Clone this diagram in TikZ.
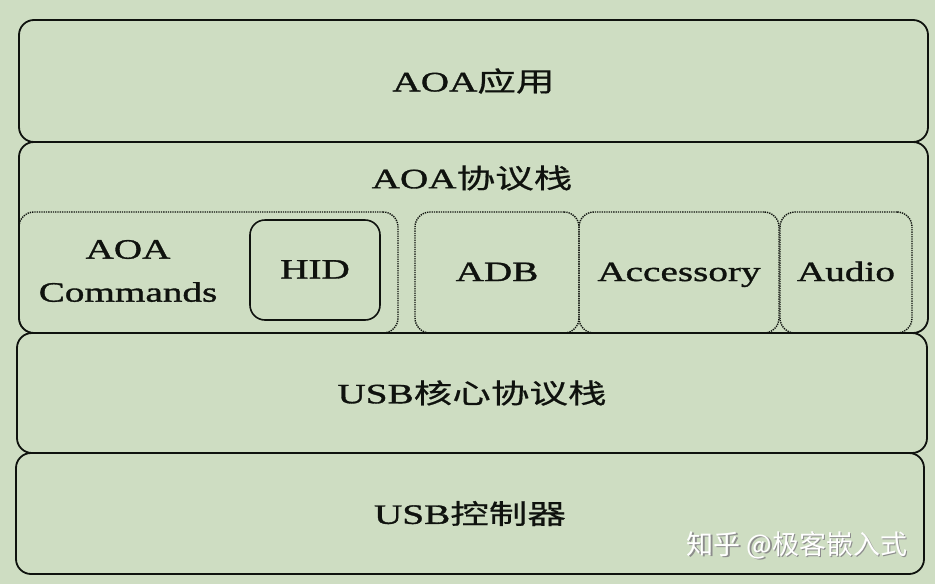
\documentclass[tikz,border=0pt]{standalone}
\usepackage{fontspec}
\setmainfont{Liberation Serif}[FakeStretch=1.4,FakeBold=1.2]
\newfontfamily\cjk{Noto Sans CJK SC}[FakeStretch=1.42,Scale=0.97,FakeBold=0.6]
\newfontfamily\wmfont{Noto Sans CJK SC}
\definecolor{bg}{RGB}{206,221,194}
\definecolor{ink}{RGB}{15,18,14}
\begin{document}
\begin{tikzpicture}[x=1pt,y=-1pt,
  layer/.style={draw=ink,line width=1.8pt,rounded corners=15pt,inner sep=0pt,outer sep=0pt,
    font=\fontsize{28}{30}\selectfont,text=ink},
  sub/.style={draw=ink,line width=1.4pt,dash pattern=on 1.3pt off 1pt,rounded corners=15pt,
    inner sep=0pt,outer sep=0pt,font=\fontsize{28}{30}\selectfont,text=ink,
    text height=19pt,text depth=2pt},
  lbl/.style={inner sep=0pt,font=\fontsize{28}{43}\selectfont,text=ink,align=center}]
\fill[bg] (0,0) rectangle (935,584);
\useasboundingbox (0,0) rectangle (935,584);
% outer layers
\node[layer,minimum width=909pt,minimum height=122pt] (app) at (473.5,81) {AOA{\cjk 应用}};
\node[layer,minimum width=909pt,minimum height=191pt] (stack) at (473.5,237.5) {};
\node[lbl] (stacklbl) at (472,178) {AOA{\cjk 协议栈}};
\node[layer,minimum width=910pt,minimum height=120pt] (core) at (472,393) {USB{\cjk 核心协议栈}};
\node[layer,minimum width=908pt,minimum height=121pt] (ctrl) at (470,513.5) {USB{\cjk 控制器}};
% sub boxes
\node[sub,minimum width=379pt,minimum height=121pt] (cmd) at (208.5,272.5) {};
\node[lbl] (cmdlbl) at (128,271) {AOA\\Commands};
\node[draw=ink,line width=1.6pt,rounded corners=15pt,inner sep=0pt,minimum width=130pt,minimum height=100pt,
  font=\fontsize{28}{30}\selectfont,text=ink,text height=19pt,text depth=2pt] (hid) at (315,270) {HID};
\node[sub,minimum width=164pt,minimum height=121pt] (adb) at (497,272.5) {ADB};
\node[sub,minimum width=200pt,minimum height=121pt] (acc) at (679,272.5) {Accessory};
\node[sub,minimum width=132pt,minimum height=121pt] (aud) at (846,272.5) {Audio};
% watermark
\node[inner sep=0pt,font=\wmfont\fontsize{27}{29}\selectfont,text=black!45] (wmshadow) at (798.5,546.5) {知乎 @极客嵌入式};
\node[inner sep=0pt,font=\wmfont\fontsize{27}{29}\selectfont,text=white] (wm) at (797,545) {知乎 @极客嵌入式};
\end{tikzpicture}
\end{document}
